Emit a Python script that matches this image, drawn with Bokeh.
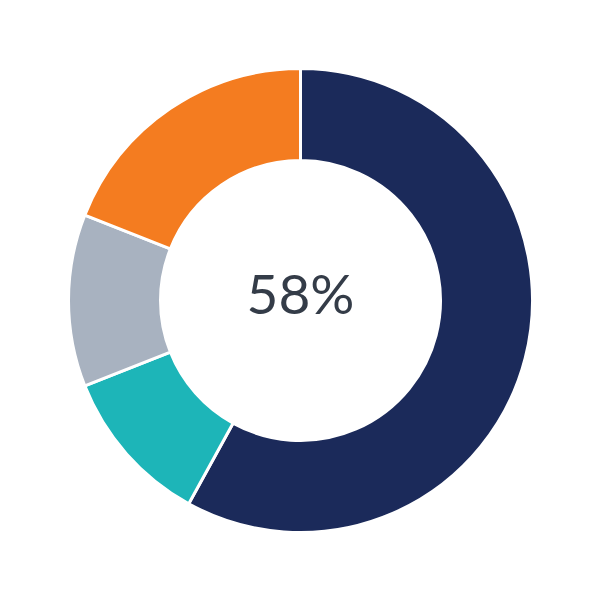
import math
from bokeh.plotting import figure
from bokeh.models import Range1d, ColumnDataSource
from bokeh.core.properties import value
from bokeh.embed import file_html
from bokeh.resources import INLINE

categories = ["A", "B", "C", "D"]
shares = [58, 11, 12, 19]
colors = ["#1b2a5a", "#1db5b8", "#a8b2c0", "#f47c20"]
center_label = "58%"

total = sum(shares)
starts, ends = [], []
cum = 0.0
for s in shares:
    starts.append(math.pi / 2 - 2 * math.pi * cum / total)
    cum += s
    ends.append(math.pi / 2 - 2 * math.pi * cum / total)

src = ColumnDataSource(dict(cat=categories, start=starts, end=ends, color=colors))

p = figure(width=584, height=584, output_backend="svg", toolbar_location=None,
           x_range=Range1d(-300, 284), y_range=Range1d(-284, 300), min_border=0)
p.axis.visible = False
p.grid.visible = False
p.outline_line_color = None
p.background_fill_color = "white"

p.annular_wedge(x=0, y=0, inner_radius=140, outer_radius=232,
                start_angle="start", end_angle="end", direction="clock",
                fill_color="color", line_color="white", line_width=3, source=src)

p.text(x=[0], y=[0], y_offset=-8, text=[center_label], text_align="center", text_baseline="middle",
       text_font=value("Lato"), text_font_size="55px", text_color="#343c48")

open("out.html", "w").write(file_html(p, INLINE))
